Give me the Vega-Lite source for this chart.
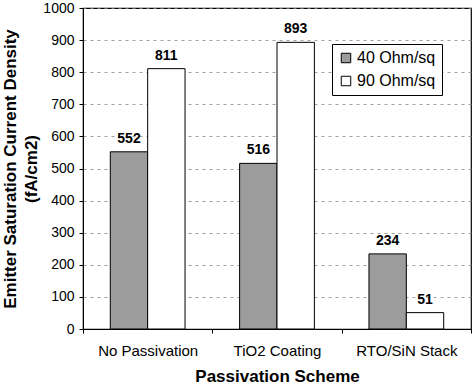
{
  "$schema": "https://vega.github.io/schema/vega-lite/v6.json",
  "autosize": {"type": "none"},
  "width": 388,
  "height": 321,
  "padding": {"left": 83, "top": 8, "right": 3, "bottom": 58},
  "background": "white",
  "config": {
    "font": "Liberation Sans",
    "view": {"stroke": "black", "strokeWidth": 1.2}
  },
  "data": {
    "values": [
      {"scheme": "No Passivation", "series": "40 Ohm/sq", "value": 552},
      {"scheme": "No Passivation", "series": "90 Ohm/sq", "value": 811},
      {"scheme": "TiO2 Coating", "series": "40 Ohm/sq", "value": 516},
      {"scheme": "TiO2 Coating", "series": "90 Ohm/sq", "value": 893},
      {"scheme": "RTO/SiN Stack", "series": "40 Ohm/sq", "value": 234},
      {"scheme": "RTO/SiN Stack", "series": "90 Ohm/sq", "value": 51}
    ]
  },
  "encoding": {
    "x": {
      "field": "scheme",
      "type": "nominal",
      "sort": ["No Passivation", "TiO2 Coating", "RTO/SiN Stack"],
      "scale": {"paddingInner": 0, "paddingOuter": 0},
      "axis": {
        "title": "Passivation Scheme",
        "titleFontSize": 17,
        "titleFontWeight": "bold",
        "titleColor": "black",
        "titlePadding": 10,
        "labelAngle": 0,
        "labelFontSize": 15,
        "labelPadding": 10,
        "labelColor": "black",
        "tickBand": "extent",
        "tickColor": "black",
        "tickSize": 4,
        "domainColor": "black",
        "grid": false
      }
    },
    "xOffset": {
      "field": "series",
      "type": "nominal",
      "scale": {"paddingOuter": 0.73, "paddingInner": 0}
    },
    "y": {
      "field": "value",
      "type": "quantitative",
      "scale": {"domain": [0, 1000], "nice": false},
      "axis": {
        "title": ["Emitter Saturation Current Density", "(fA/cm2)"],
        "titleFontSize": 17,
        "titleFontWeight": "bold",
        "titleLineHeight": 21,
        "titlePadding": 2,
        "titleColor": "black",
        "labelFontSize": 14,
        "labelColor": "black",
        "labelPadding": 5,
        "labelOverlap": false,
        "format": "d",
        "values": [0, 100, 200, 300, 400, 500, 600, 700, 800, 900, 1000],
        "tickSize": 4,
        "tickColor": "black",
        "domainColor": "black",
        "gridColor": "#888888",
        "gridDash": [3, 4],
        "gridWidth": 0.8
      }
    }
  },
  "layer": [
    {
      "mark": {"type": "bar", "stroke": "black", "strokeWidth": 1},
      "encoding": {
        "fill": {
          "field": "series",
          "type": "nominal",
          "scale": {"range": ["#9c9c9c", "#ffffff"]},
          "legend": {
            "title": null,
            "orient": "none",
            "legendX": 249,
            "legendY": 36,
            "symbolType": "square",
            "symbolSize": 90,
            "symbolStrokeColor": "black",
            "symbolStrokeWidth": 1,
            "labelFontSize": 16,
            "labelColor": "black",
            "labelOffset": 3,
            "rowPadding": 7,
            "strokeColor": "black",
            "padding": 6,
            "fillColor": "white"
          }
        }
      }
    },
    {
      "mark": {"type": "text", "dy": -13, "fontSize": 14, "fontWeight": "bold", "color": "black"},
      "encoding": {
        "text": {"field": "value", "type": "quantitative"}
      }
    }
  ]
}
